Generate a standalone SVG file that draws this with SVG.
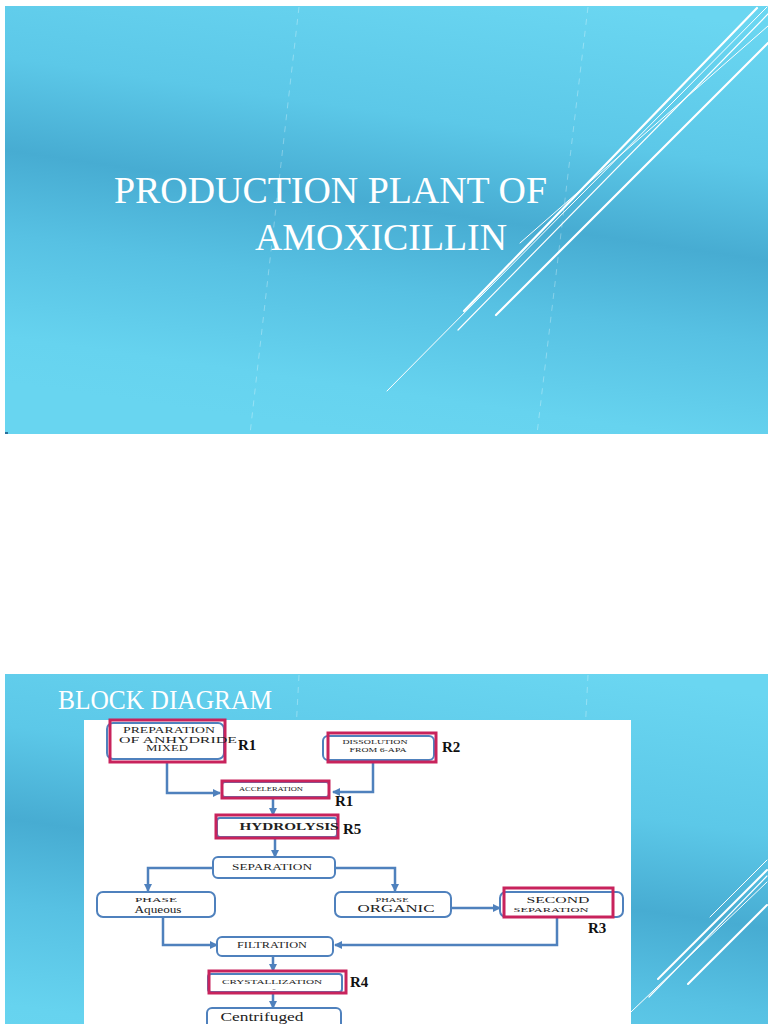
<svg xmlns="http://www.w3.org/2000/svg" width="768" height="1024" viewBox="0 0 768 1024">
<defs>
<linearGradient id="bg1" gradientUnits="userSpaceOnUse" x1="417" y1="-23" x2="351" y2="433">
<stop offset="0" stop-color="#6ad6f1"/>
<stop offset="0.3" stop-color="#5cc8e8"/>
<stop offset="0.5" stop-color="#47acd2"/>
<stop offset="0.68" stop-color="#57c1e3"/>
<stop offset="0.9" stop-color="#66d3ef"/>
<stop offset="1" stop-color="#68d5f0"/>
</linearGradient>
<linearGradient id="bg2" gradientUnits="userSpaceOnUse" x1="417" y1="645" x2="351" y2="1101">
<stop offset="0" stop-color="#6ad6f1"/>
<stop offset="0.3" stop-color="#5cc8e8"/>
<stop offset="0.5" stop-color="#47acd2"/>
<stop offset="0.68" stop-color="#57c1e3"/>
<stop offset="0.9" stop-color="#66d3ef"/>
<stop offset="1" stop-color="#68d5f0"/>
</linearGradient>
<marker id="ah" markerWidth="8" markerHeight="8" refX="7" refY="4" orient="auto" markerUnits="userSpaceOnUse">
<path d="M0,0 L8,4 L0,8 z" fill="#4f81bd"/>
</marker>
<style>
.dash{stroke:#ffffff;stroke-opacity:0.3;stroke-width:1;stroke-dasharray:6 6;fill:none}
.wl{stroke:#ffffff;fill:none;stroke-linecap:round}
.ttl{font-family:"Liberation Serif",serif;fill:#ffffff}
.bx{fill:#ffffff;stroke:#4f81bd;stroke-width:2}
.rd{fill:none;stroke:#c8235c;stroke-width:3}
.cn{fill:none;stroke:#4f81bd;stroke-width:2.5;marker-end:url(#ah)}
.tx{font-family:"Liberation Serif",serif;fill:#222;text-anchor:middle}
.rl{font-family:"Liberation Serif",serif;font-weight:bold;font-size:15px;fill:#111}
</style>
</defs>
<rect width="768" height="1024" fill="#ffffff"/>

<g id="slide1">
<rect x="5" y="6" width="763" height="428" fill="url(#bg1)"/>
<line class="dash" x1="299" y1="7" x2="250" y2="434"/>
<line class="dash" x1="588" y1="7" x2="537" y2="434"/>
<line class="wl" x1="767" y1="7" x2="387" y2="391" stroke-width="1"/>
<line class="wl" x1="757" y1="8" x2="464" y2="311" stroke-width="2.2"/>
<line class="wl" x1="768" y1="14" x2="458" y2="330" stroke-width="1.2"/>
<line class="wl" x1="768" y1="26" x2="520" y2="243" stroke-width="1"/>
<line class="wl" x1="768" y1="43" x2="496" y2="315" stroke-width="2.2"/>
<rect x="5" y="432" width="3" height="2" fill="#2a6f9a"/>
<text class="ttl" x="114" y="203" font-size="38" textLength="433" lengthAdjust="spacingAndGlyphs">PRODUCTION PLANT OF</text>
<text class="ttl" x="255" y="250" font-size="38" textLength="252" lengthAdjust="spacingAndGlyphs">AMOXICILLIN</text>
</g>

<g id="slide2">
<rect x="5" y="674" width="763" height="350" fill="url(#bg2)"/>
<line class="dash" x1="299" y1="675" x2="280" y2="1024"/>
<line class="dash" x1="588" y1="675" x2="570" y2="1024"/>
<line class="wl" x1="767" y1="860" x2="710" y2="917" stroke-width="1"/>
<line class="wl" x1="767" y1="870" x2="658" y2="979" stroke-width="2"/>
<line class="wl" x1="767" y1="876" x2="649" y2="997" stroke-width="1.2"/>
<line class="wl" x1="767" y1="882" x2="631" y2="1012" stroke-width="1"/>
<line class="wl" x1="767" y1="905" x2="688" y2="984" stroke-width="2"/>
<text class="ttl" x="58" y="709" font-size="27" textLength="214" lengthAdjust="spacingAndGlyphs">BLOCK DIAGRAM</text>
<rect x="84" y="720" width="547" height="304" fill="#ffffff"/>
</g>

<g id="connectors">
<path class="cn" d="M167,763 V793 H220"/>
<path class="cn" d="M373,763 V792 H333"/>
<path class="cn" d="M273,797 V815"/>
<path class="cn" d="M275,839 V857"/>
<path class="cn" d="M213,868 H148 V891"/>
<path class="cn" d="M335,868 H395 V891"/>
<path class="cn" d="M451,908 H500"/>
<path class="cn" d="M163,917 V945 H217"/>
<path class="cn" d="M557,917 V945 H335"/>
<path class="cn" d="M273,956 V971"/>
<path class="cn" d="M273,993 V1008"/>
</g>

<g id="n-preparation">
<rect class="bx" x="107" y="723" width="117" height="36" rx="6"/>
<rect class="rd" x="110" y="720" width="115" height="42"/>
<text class="tx" x="169" y="733" font-size="9" textLength="92" lengthAdjust="spacingAndGlyphs">PREPARATION</text>
<text class="tx" x="178" y="742.5" font-size="9" textLength="118" lengthAdjust="spacingAndGlyphs">OF ANHYDRIDE</text>
<text class="tx" x="167" y="751" font-size="8" textLength="42" lengthAdjust="spacingAndGlyphs">MIXED</text>
<text class="rl" x="238" y="750">R1</text>
</g>

<g id="n-dissolution">
<rect class="bx" x="323" y="736" width="111" height="24" rx="5"/>
<rect class="rd" x="328" y="733" width="108" height="29"/>
<text class="tx" x="375" y="744" font-size="7" textLength="65" lengthAdjust="spacingAndGlyphs">DISSOLUTION</text>
<text class="tx" x="378" y="752" font-size="7" textLength="57" lengthAdjust="spacingAndGlyphs">FROM 6-APA</text>
<text class="rl" x="442" y="752">R2</text>
</g>

<g id="n-acceleration">
<rect class="bx" x="222" y="782" width="107" height="15" rx="3"/>
<rect class="rd" x="222" y="781" width="107" height="17"/>
<text class="tx" x="271" y="791" font-size="6" textLength="64" lengthAdjust="spacingAndGlyphs">ACCELERATION</text>
<text class="rl" x="335" y="806">R1</text>
</g>

<g id="n-hydrolysis">
<rect class="bx" x="217" y="818" width="120" height="19" rx="3"/>
<rect class="rd" x="216" y="815" width="122" height="23"/>
<text class="tx" x="289" y="830" font-size="11" font-weight="bold" textLength="99" lengthAdjust="spacingAndGlyphs">HYDROLYSIS</text>
<text class="rl" x="343" y="834">R5</text>
</g>

<g id="n-separation">
<rect class="bx" x="213" y="857" width="122" height="21" rx="5"/>
<text class="tx" x="272" y="870" font-size="9" textLength="80" lengthAdjust="spacingAndGlyphs">SEPARATION</text>
</g>

<g id="n-aqueous">
<rect class="bx" x="97" y="892" width="118" height="25" rx="6"/>
<text class="tx" x="156" y="902" font-size="6.5" textLength="42" lengthAdjust="spacingAndGlyphs">PHASE</text>
<text class="tx" x="158" y="913" font-size="11" textLength="47" lengthAdjust="spacingAndGlyphs">Aqueous</text>
</g>

<g id="n-organic">
<rect class="bx" x="335" y="892" width="116" height="25" rx="6"/>
<text class="tx" x="392" y="902" font-size="6.5" textLength="33" lengthAdjust="spacingAndGlyphs">PHASE</text>
<text class="tx" x="396" y="912" font-size="10" textLength="77" lengthAdjust="spacingAndGlyphs">ORGANIC</text>
</g>

<g id="n-second">
<rect class="bx" x="500" y="892" width="123" height="25" rx="6"/>
<rect class="rd" x="504" y="888" width="109" height="29"/>
<text class="tx" x="558" y="903" font-size="9" textLength="63" lengthAdjust="spacingAndGlyphs">SECOND</text>
<text class="tx" x="551" y="912" font-size="6.5" textLength="75" lengthAdjust="spacingAndGlyphs">SEPARATION</text>
<text class="rl" x="588" y="933">R3</text>
</g>

<g id="n-filtration">
<rect class="bx" x="217" y="937" width="116" height="19" rx="5"/>
<text class="tx" x="272" y="948" font-size="7.5" textLength="70" lengthAdjust="spacingAndGlyphs">FILTRATION</text>
</g>

<g id="n-crystallization">
<rect class="bx" x="208" y="974" width="134" height="18" rx="3"/>
<rect class="rd" x="209" y="971" width="137" height="22"/>
<text class="tx" x="272" y="984" font-size="7" textLength="100" lengthAdjust="spacingAndGlyphs">CRYSTALLIZATION</text>
<text class="tx" x="274" y="990" font-size="6">..</text>
<text class="rl" x="350" y="987">R4</text>
</g>

<g id="n-centrifuged">
<rect class="bx" x="207" y="1008" width="134" height="24" rx="5"/>
<text class="tx" x="262" y="1021" font-size="12.5" textLength="83" lengthAdjust="spacingAndGlyphs">Centrifuged</text>
</g>
</svg>
